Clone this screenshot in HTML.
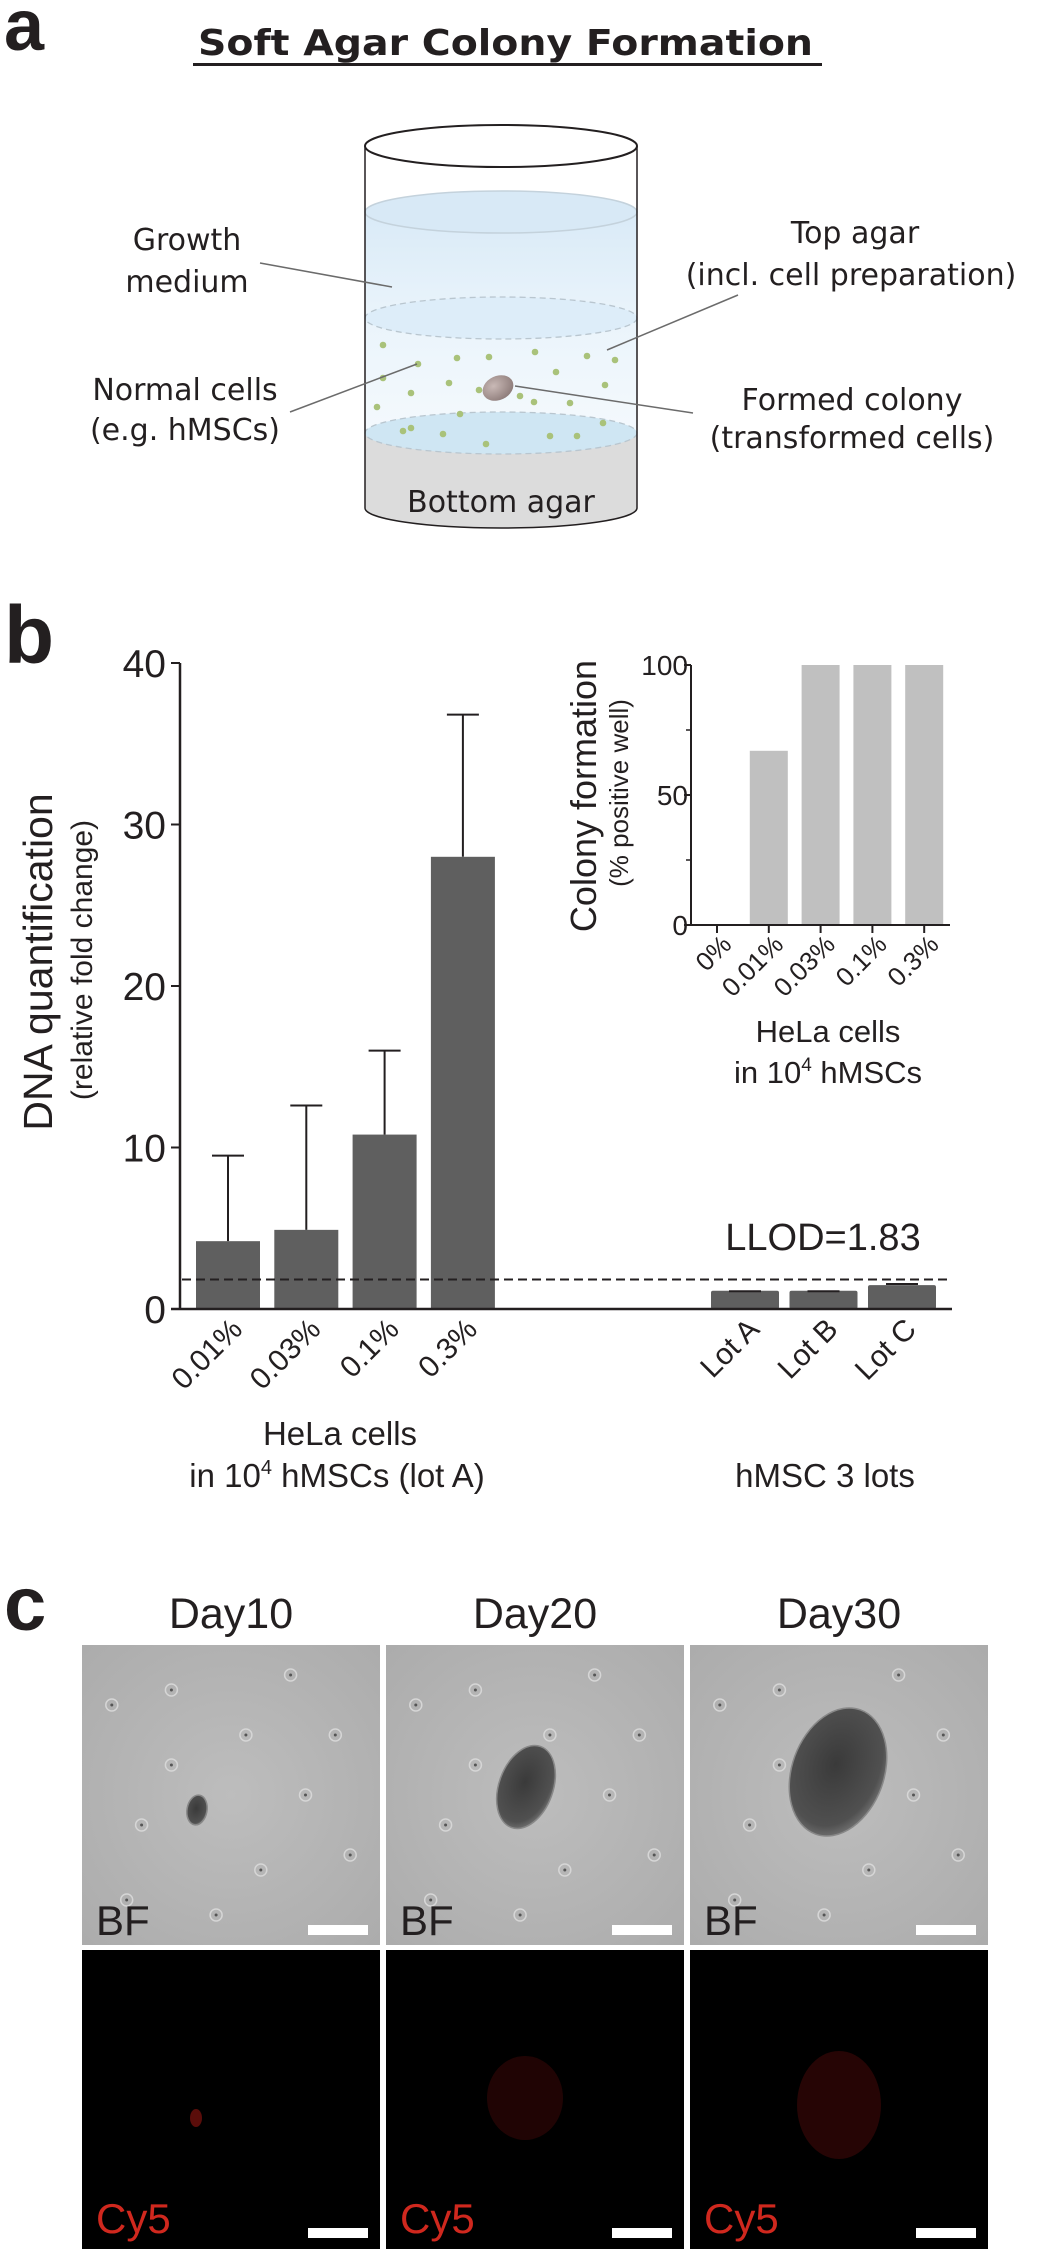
<!DOCTYPE html>
<html><head><meta charset="utf-8"><style>
html,body{margin:0;padding:0;background:#fff;}
svg{display:block;}
.d{font-family:"DejaVu Sans","Liberation Sans",sans-serif;fill:#231f20;}
.l{font-family:"Liberation Sans",Arial,sans-serif;fill:#231f20;}
</style></head><body>
<svg id="fig" width="1050" height="2253" viewBox="0 0 1050 2253" xmlns="http://www.w3.org/2000/svg">
<defs>
<linearGradient id="med" x1="0" y1="0" x2="0" y2="1"><stop offset="0" stop-color="#d9eaf7"/><stop offset="1" stop-color="#eaf4fb"/></linearGradient>
<linearGradient id="topag" x1="0" y1="0" x2="0" y2="1"><stop offset="0" stop-color="#eaf4fb"/><stop offset="1" stop-color="#f4f9fd"/></linearGradient>
<radialGradient id="col" cx="0.4" cy="0.35" r="0.7"><stop offset="0" stop-color="#c9b9b6"/><stop offset="1" stop-color="#8c7a78"/></radialGradient>
<radialGradient id="bfbg" cx="0.5" cy="0.5" r="0.7"><stop offset="0" stop-color="#bdbdbd"/><stop offset="1" stop-color="#acacac"/></radialGradient>
<radialGradient id="colony" cx="0.45" cy="0.45" r="0.6"><stop offset="0" stop-color="#3a3a3a"/><stop offset="0.8" stop-color="#505050"/><stop offset="1" stop-color="#777"/></radialGradient>
<radialGradient id="red" cx="0.5" cy="0.5" r="0.5"><stop offset="0" stop-color="#3a0606"/><stop offset="1" stop-color="#140202"/></radialGradient>
</defs>

<!-- Panel a -->
<text x="4" y="50" class="l" font-size="72" font-weight="bold">a</text>
<text x="198" y="55" class="d" font-size="36" font-weight="bold" textLength="615" lengthAdjust="spacingAndGlyphs">Soft Agar Colony Formation</text>
<rect x="193" y="63" width="629" height="3" fill="#231f20"/>

<g>
  <!-- bottom agar -->
  <path d="M365 433 L365 508 A136 20 0 0 0 637 508 L637 433 Z" fill="#dcdcdc"/>
  <!-- top agar -->
  <path d="M365 318 L365 433 L637 433 L637 318 Z" fill="url(#topag)"/>
  <!-- medium -->
  <path d="M365 212 L365 318 L637 318 L637 212 Z" fill="url(#med)"/>
  <ellipse cx="501" cy="212" rx="136" ry="21" fill="#d8e9f6" stroke="#c4d2dc" stroke-width="1.5"/>
  <ellipse cx="501" cy="318" rx="136" ry="21" fill="#ddedf9" stroke="#b9c6cf" stroke-width="1.3" stroke-dasharray="6 4"/>
  <ellipse cx="501" cy="433" rx="136" ry="21" fill="#cfe6f3" stroke="#b9c6cf" stroke-width="1.3" stroke-dasharray="6 4"/>
  <g id="dots" fill="#a9c27a"></g>
  <ellipse cx="498" cy="388" rx="16" ry="12" transform="rotate(-25 498 388)" fill="url(#col)"/>
  <ellipse cx="501" cy="146" rx="136" ry="21" fill="none" stroke="#231f20" stroke-width="2"/>
  <line x1="365" y1="146" x2="365" y2="508" stroke="#231f20" stroke-width="1.5"/>
  <line x1="637" y1="146" x2="637" y2="508" stroke="#231f20" stroke-width="1.5"/>
  <path d="M365 508 A136 20 0 0 0 637 508" fill="none" stroke="#231f20" stroke-width="1.5"/>
  <text x="501" y="512" text-anchor="middle" class="d" font-size="30">Bottom agar</text>
  <g stroke="#6b6b6b" stroke-width="1.5">
    <line x1="260" y1="263" x2="392" y2="287"/>
    <line x1="738" y1="295" x2="607" y2="350"/>
    <line x1="290" y1="412" x2="417" y2="364"/>
    <line x1="515" y1="386" x2="693" y2="413"/>
  </g>
</g>
<g class="d" font-size="30" text-anchor="middle">
  <text x="187" y="250">Growth</text>
  <text x="187" y="292">medium</text>
  <text x="185" y="400">Normal cells</text>
  <text x="185" y="440">(e.g. hMSCs)</text>
  <text x="855" y="243">Top agar</text>
  <text x="851" y="285">(incl. cell preparation)</text>
  <text x="852" y="410">Formed colony</text>
  <text x="852" y="448">(transformed cells)</text>
</g>

<!-- Panel b -->
<text x="4" y="663" class="l" font-size="82" font-weight="bold">b</text>
<g id="main"></g>
<g id="inset"></g>

<!-- Panel c -->
<text x="4" y="1630" class="l" font-size="76" font-weight="bold">c</text>
<g id="micro"></g>
</svg>

<script>
// ---------- main chart data ----------
const helaCats = ['0.01%', '0.03%', '0.1%', '0.3%'];
const helaVals = [4.2, 4.9, 10.8, 28.0];
const helaErr = [9.5, 12.6, 16.0, 36.8];
const lotCats = ['Lot A', 'Lot B', 'Lot C'];
const lotVals = [1.13, 1.13, 1.48];
const lotErr = [1.1, 1.1, 1.55];
const yTicks = [0, 10, 20, 30, 40];
const llod = 1.83;
// ---------- inset data ----------
const insetCats = ['0%', '0.01%', '0.03%', '0.1%', '0.3%'];
const insetVals = [0, 67, 100, 100, 100];
const insetTicks = [0, 50, 100];
const insetMinor = [25, 75];

const NS = 'http://www.w3.org/2000/svg';
function mk(parent, tag, attrs, text) {
  const e = document.createElementNS(NS, tag);
  for (const k in attrs) e.setAttribute(k, attrs[k]);
  if (text !== undefined) e.textContent = text;
  parent.appendChild(e);
  return e;
}

// main axes
const yMain = v => 1309 - v * 16.15;
const xHela = i => 228 + i * 78.3;
const xLot = i => 745 + i * 78.5;
const BW = 64;
const main = document.getElementById('main');

helaCats.forEach((c, i) => {
  const cx = xHela(i);
  const e1 = mk(main, 'line', {x1: cx, x2: cx, y1: yMain(helaVals[i]), y2: yMain(helaErr[i]), stroke: '#231f20', 'stroke-width': 2});
  
  
  const e2 = mk(main, 'line', {x1: cx - 16, x2: cx + 16, y1: yMain(helaErr[i]), y2: yMain(helaErr[i]), stroke: '#231f20', 'stroke-width': 2});
  
  
  const r = mk(main, 'rect', {x: cx - BW / 2, y: yMain(helaVals[i]), width: BW, height: yMain(0) - yMain(helaVals[i]), fill: '#5f5f5f'});
  
  
  const t = mk(main, 'text', {x: cx + 16, y: 1331, 'text-anchor': 'end', class: 'l', 'font-size': 30, transform: `rotate(-45 ${cx + 16} 1331)`}, c);
  
  
});
lotCats.forEach((c, i) => {
  const cx = xLot(i);
  const r = mk(main, 'rect', {x: cx - 34, y: yMain(lotVals[i]), width: 68, height: yMain(0) - yMain(lotVals[i]), fill: '#5f5f5f', rx: 2});
  
  
  const e = mk(main, 'line', {x1: cx - 16, x2: cx + 16, y1: yMain(lotErr[i]), y2: yMain(lotErr[i]), stroke: '#231f20', 'stroke-width': 2});
  
  
  const t = mk(main, 'text', {x: cx + 16, y: 1331, 'text-anchor': 'end', class: 'l', 'font-size': 30, transform: `rotate(-45 ${cx + 16} 1331)`}, c);
  
  
});
// LLOD line
const ll = mk(main, 'line', {x1: 182, x2: 952, y1: yMain(llod), y2: yMain(llod), stroke: '#231f20', 'stroke-width': 2, 'stroke-dasharray': '9 5'});


const llt = mk(main, 'text', {x: 823, y: 1250, 'text-anchor': 'middle', class: 'l', 'font-size': 38}, 'LLOD=' + llod);


// axes
const ya = mk(main, 'line', {x1: 180, x2: 180, y1: yMain(40), y2: yMain(0) + 1, stroke: '#231f20', 'stroke-width': 2.5});


const xa = mk(main, 'line', {x1: 171, x2: 952, y1: yMain(0), y2: yMain(0), stroke: '#231f20', 'stroke-width': 2.5});


yTicks.forEach(v => {
  mk(main, 'line', {x1: 171, x2: 180, y1: yMain(v), y2: yMain(v), stroke: '#231f20', 'stroke-width': 2});
  const t = mk(main, 'text', {x: 166, y: yMain(v) + 14, 'text-anchor': 'end', class: 'l', 'font-size': 39}, String(v));
  
  
});
let t1 = mk(main, 'text', {x: 0, y: 0, 'text-anchor': 'middle', class: 'l', 'font-size': 41, transform: 'translate(52 962) rotate(-90)'}, 'DNA quantification');


let t2 = mk(main, 'text', {x: 0, y: 0, 'text-anchor': 'middle', class: 'l', 'font-size': 30, transform: 'translate(92 960) rotate(-90)'}, '(relative fold change)');


let g1 = mk(main, 'text', {x: 340, y: 1445, 'text-anchor': 'middle', class: 'l', 'font-size': 33}, 'HeLa cells');


let g2 = mk(main, 'text', {x: 337, y: 1487, 'text-anchor': 'middle', class: 'l', 'font-size': 33});
g2.innerHTML = 'in 10<tspan font-size="20" dy="-13">4</tspan><tspan dy="13"> hMSCs (lot A)</tspan>';


let g3 = mk(main, 'text', {x: 825, y: 1487, 'text-anchor': 'middle', class: 'l', 'font-size': 33}, 'hMSC 3 lots');



// ---------- inset ----------
const inset = document.getElementById('inset');
const yIn = v => 925 - v * 2.6;
const xIn = i => 717 + i * 51.8;
insetCats.forEach((c, i) => {
  const cx = xIn(i);
  if (insetVals[i] > 0) {
    const r = mk(inset, 'rect', {x: cx - 19, y: yIn(insetVals[i]), width: 38, height: yIn(0) - yIn(insetVals[i]), fill: '#c0c0c0'});
    
    
  }
  mk(inset, 'line', {x1: cx, x2: cx, y1: yIn(0), y2: yIn(0) + 8, stroke: '#231f20', 'stroke-width': 2});
  const t = mk(inset, 'text', {x: cx + 16, y: 946, 'text-anchor': 'end', class: 'l', 'font-size': 26, transform: `rotate(-45 ${cx + 16} 946)`}, c);
  
  
});
const iya = mk(inset, 'line', {x1: 691, x2: 691, y1: yIn(100), y2: yIn(0) + 1, stroke: '#231f20', 'stroke-width': 2});


const ixa = mk(inset, 'line', {x1: 684, x2: 950, y1: yIn(0), y2: yIn(0), stroke: '#231f20', 'stroke-width': 2});


insetTicks.forEach(v => {
  mk(inset, 'line', {x1: 684, x2: 691, y1: yIn(v), y2: yIn(v), stroke: '#231f20', 'stroke-width': 2});
  const t = mk(inset, 'text', {x: 688, y: yIn(v) + 10, 'text-anchor': 'end', class: 'l', 'font-size': 28}, String(v));
  
  
});
insetMinor.forEach(v => {
  mk(inset, 'line', {x1: 686, x2: 691, y1: yIn(v), y2: yIn(v), stroke: '#231f20', 'stroke-width': 1.5});
});
let it1 = mk(inset, 'text', {x: 0, y: 0, 'text-anchor': 'middle', class: 'l', 'font-size': 36, transform: 'translate(596 796) rotate(-90)'}, 'Colony formation');


let it2 = mk(inset, 'text', {x: 0, y: 0, 'text-anchor': 'middle', class: 'l', 'font-size': 26, transform: 'translate(628 793) rotate(-90)'}, '(% positive well)');


let ix1 = mk(inset, 'text', {x: 828, y: 1042, 'text-anchor': 'middle', class: 'l', 'font-size': 31}, 'HeLa cells');


let ix2 = mk(inset, 'text', {x: 828, y: 1083, 'text-anchor': 'middle', class: 'l', 'font-size': 31});
ix2.innerHTML = 'in 10<tspan font-size="19" dy="-12">4</tspan><tspan dy="12"> hMSCs</tspan>';



// ---------- diagram dots ----------
const dots = document.getElementById('dots');
[[383,345],[457,358],[489,357],[418,364],[383,378],[449,383],[411,393],[479,390],[377,407],[460,414],[411,428],[443,434],[486,444],[403,431],[535,352],[587,356],[615,360],[556,372],[605,385],[534,402],[570,403],[603,423],[550,436],[577,436],[520,396]].forEach(p => {
  const c = mk(dots, 'circle', {cx: p[0], cy: p[1], r: 3.3});
  
  
});

// ---------- microscopy ----------
const micro = document.getElementById('micro');
const days = ['Day10', 'Day20', 'Day30'];
const imgX = [82, 386, 690];
const colonies = [[197, 1810, 10, 15, 10], [526, 1787, 27, 43, 20], [838, 1772, 46, 66, 20]];
const reds = [[196, 2118, 6, 9, '#5a0d0a'], [525, 2098, 38, 42, '#200404'], [839, 2105, 42, 54, '#260505']];
const specks = [[0.1,0.2],[0.3,0.15],[0.7,0.1],[0.85,0.3],[0.2,0.6],[0.6,0.75],[0.9,0.7],[0.15,0.85],[0.45,0.9],[0.75,0.5],[0.55,0.3],[0.3,0.4]];
days.forEach((d, i) => {
  const x = imgX[i];
  const t = mk(micro, 'text', {x: x + 149, y: 1628, 'text-anchor': 'middle', class: 'l', 'font-size': 43}, d);
  
  
  const bf = mk(micro, 'rect', {x: x, y: 1645, width: 298, height: 300, fill: 'url(#bfbg)'});
  
  
  specks.forEach(s => {
    mk(micro, 'circle', {cx: x + s[0] * 298, cy: 1645 + s[1] * 300, r: 6, fill: 'none', stroke: '#d6d6d6', 'stroke-width': 1.5});
    mk(micro, 'circle', {cx: x + s[0] * 298, cy: 1645 + s[1] * 300, r: 1.5, fill: '#555'});
  });
  const c = colonies[i];
  const ce = mk(micro, 'ellipse', {cx: c[0], cy: c[1], rx: c[2], ry: c[3], fill: 'url(#colony)', stroke: '#888', 'stroke-width': 1.5, transform: `rotate(${c[4]} ${c[0]} ${c[1]})`});
  
  
  const bl = mk(micro, 'text', {x: x + 14, y: 1935, class: 'l', 'font-size': 42}, 'BF');
  
  
  mk(micro, 'rect', {x: x + 226, y: 1925, width: 60, height: 10, fill: '#fff'});
  const cy = mk(micro, 'rect', {x: x, y: 1950, width: 298, height: 299, fill: '#000'});
  
  
  const r = reds[i];
  mk(micro, 'ellipse', {cx: r[0], cy: r[1], rx: r[2], ry: r[3], fill: r[4]});
  const cl = mk(micro, 'text', {x: x + 14, y: 2233, class: 'l', 'font-size': 42, fill: '#d0281e', style: 'fill:#d0281e'}, 'Cy5');
  
  
  mk(micro, 'rect', {x: x + 226, y: 2228, width: 60, height: 10, fill: '#fff'});
});
</script>
</body></html>
